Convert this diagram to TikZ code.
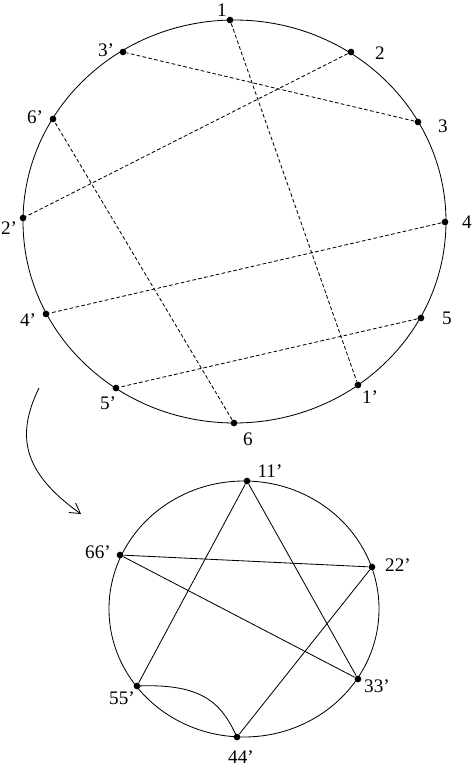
\documentclass[tikz,border=0pt]{standalone}
\usepackage{fontspec}
\setmainfont{Liberation Serif}
\usepackage{tikz}
\usetikzlibrary{arrows.meta}

\tikzset{
    pt/.style={circle, fill, inner sep=0pt, minimum size=4pt},
    lbl/.style={inner sep=0pt, font=\fontsize{11.5}{13}\selectfont},
    chord/.style={dash pattern=on 2.2pt off 1.4pt},
}

\begin{document}
\begin{tikzpicture}[x=0.0211cm, y=-0.0211cm, line width=0.5pt]
        \useasboundingbox (0, 0) rectangle (474, 767);

        \draw (234.5, 221.5) ellipse [x radius=4.463cm, y radius=4.252cm];

        \node[pt] (p1) at (230, 20) {};
        \node[pt] (p2) at (351, 52) {};
        \node[pt] (p3) at (418, 122) {};
        \node[pt] (p4) at (445, 222) {};
        \node[pt] (p5) at (421, 318) {};
        \node[pt] (p6) at (234, 423) {};
        \node[pt] (q1) at (358, 385) {};
        \node[pt] (q2) at (23, 218) {};
        \node[pt] (q3) at (123, 52) {};
        \node[pt] (q4) at (46, 314) {};
        \node[pt] (q5) at (116, 388) {};
        \node[pt] (q6) at (53, 119) {};

        \node[lbl] (l1) at (222, 10) {1};
        \node[lbl] (l2) at (380, 53) {2};
        \node[lbl] (l3) at (443, 126) {3};
        \node[lbl] (l4) at (467, 222) {4};
        \node[lbl] (l5) at (447, 318) {5};
        \node[lbl] (l6) at (248, 439) {6};
        \node[lbl] (m1) at (370, 397) {1'};
        \node[lbl] (m2) at (9, 228) {2'};
        \node[lbl] (m3) at (106, 50) {3'};
        \node[lbl] (m4) at (28, 320) {4'};
        \node[lbl] (m5) at (108, 403) {5'};
        \node[lbl] (m6) at (35, 117) {6'};

        \draw[chord] (p1) -- (q1);
        \draw[chord] (p2) -- (q2);
        \draw[chord] (p3) -- (q3);
        \draw[chord] (p4) -- (q4);
        \draw[chord] (p5) -- (q5);
        \draw[chord] (p6) -- (q6);

        %%%

        \coordinate (from) at (39, 388);
        \coordinate (to) at (81, 514);
        \draw[-{Straight Barb[length=6pt, width=7pt]}] (from) .. controls (16, 435) and (22, 472) .. (to);

        %%%

        \draw (244, 609) ellipse [x radius=2.849cm, y radius=2.701cm];

        \node[pt] (r1) at (247, 481) {};
        \node[pt] (r2) at (372, 567) {};
        \node[pt] (r3) at (358, 679) {};
        \node[pt] (r4) at (237, 737) {};
        \node[pt] (r5) at (137, 686) {};
        \node[pt] (r6) at (120, 555) {};

        \node[lbl] (n1) at (270, 471) {11'};
        \node[lbl] (n2) at (398, 565) {22'};
        \node[lbl] (n3) at (377, 686) {33'};
        \node[lbl] (n4) at (241, 757) {44'};
        \node[lbl] (n5) at (122, 698) {55'};
        \node[lbl] (n6) at (98, 552) {66'};

        \draw (r1) -- (r5);
        \draw (r1) -- (r3);
        \draw (r6) -- (r2);
        \draw (r6) -- (r3);
        \draw (r2) -- (r4);
        \draw (r5.center) .. controls (205, 683) and (222, 705) .. (r4.center);
    \end{tikzpicture}
\end{document}
